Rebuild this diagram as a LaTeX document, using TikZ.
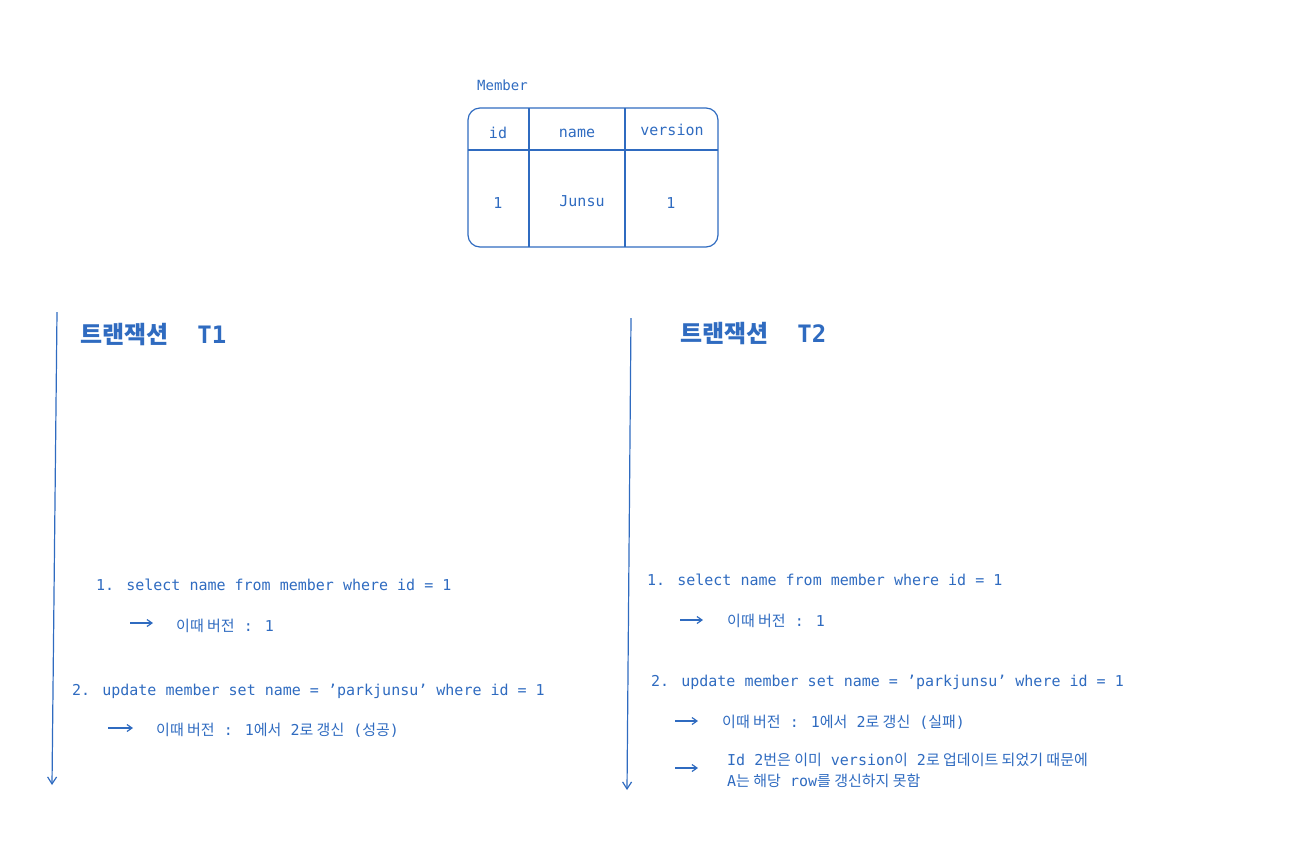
\documentclass[tikz,border=0pt]{standalone}
\usepackage{fontspec}
\setmainfont{DejaVu Sans Mono}
\newfontfamily\kr{Noto Sans CJK KR}
\newcommand{\K}[1]{{\kr #1}}
\usetikzlibrary{arrows.meta}
\definecolor{ink}{HTML}{2F6BC0}
\begin{document}
\begin{tikzpicture}[x=1pt,y=-1pt,
  txt/.style={text=ink,font=\fontsize{15}{18}\selectfont,anchor=west,inner sep=0pt},
  head/.style={text=ink,font=\fontsize{24}{28}\selectfont\bfseries,anchor=west,inner sep=0pt},
  ln/.style={draw=ink,line width=1.2pt},
  arr/.style={ln,-{Straight Barb[length=7pt,width=9pt]}},
  sarr/.style={ln,-{Straight Barb[length=5pt,width=7pt]}}]
\useasboundingbox (0,0) rectangle (1292,844);
% table
\node[txt,font=\fontsize{14}{16}\selectfont] (tname) at (477,85) {Member};
\draw[ln,rounded corners=12pt] (468,108) rectangle (718,247);
\draw[ln] (468,150) -- (718,150);
\draw[ln] (529,108) -- (529,247);
\draw[ln] (625,108) -- (625,247);
\node[txt,anchor=center] (h1) at (498,133) {id};
\node[txt,anchor=center] (h2) at (577,133) {name};
\node[txt,anchor=center] (h3) at (672,130) {version};
\node[txt,anchor=center] (v1) at (498,203) {1};
\node[txt,anchor=center] (v2) at (582,201) {Junsu};
\node[txt,anchor=center] (v3) at (671,203) {1};
% timelines
\coordinate (a1) at (57,312); \coordinate (b1) at (52,785);
\coordinate (a2) at (631,318); \coordinate (b2) at (627,790);
\draw[arr] (a1) -- (b1);
\draw[arr] (a2) -- (b2);
\node[head] (t1) at (80,335) {\K{트랜잭션}\ \ T1};
\node[head] (t2) at (680,334) {\K{트랜잭션}\ \ T2};
% T1
\node[txt] (s1) at (96,585) {1. select name from member where id = 1};
\coordinate (p1) at (130,623); \coordinate (q1) at (153,623);
\draw[sarr] (p1) -- (q1);
\node[txt] (s1b) at (176,626) {\K{이때 버전} : 1};
\node[txt] (s2) at (72,691) {2. update member set name = 'parkjunsu' where id = 1};
\coordinate (p2) at (108,728); \coordinate (q2) at (133,728);
\draw[sarr] (p2) -- (q2);
\node[txt] (s2b) at (156,730) {\K{이때 버전} : 1\K{에서} 2\K{로 갱신} (\K{성공})};
% T2
\node[txt] (r1) at (647,580) {1. select name from member where id = 1};
\coordinate (p3) at (680,620); \coordinate (q3) at (703,620);
\draw[sarr] (p3) -- (q3);
\node[txt] (r1b) at (727,621) {\K{이때 버전} : 1};
\node[txt] (r2) at (651,682) {2. update member set name = 'parkjunsu' where id = 1};
\coordinate (p4) at (675,721); \coordinate (q4) at (698,721);
\draw[sarr] (p4) -- (q4);
\node[txt] (r2b) at (722,722) {\K{이때 버전} : 1\K{에서} 2\K{로 갱신} (\K{실패})};
\coordinate (p5) at (675,768); \coordinate (q5) at (698,768);
\draw[sarr] (p5) -- (q5);
\node[txt] (r3) at (727,760) {Id 2\K{번은 이미} version\K{이} 2\K{로 업데이트 되었기 때문에}};
\node[txt] (r4) at (727,781) {A\K{는 해당} row\K{를 갱신하지 못함}};
\end{tikzpicture}
\end{document}
